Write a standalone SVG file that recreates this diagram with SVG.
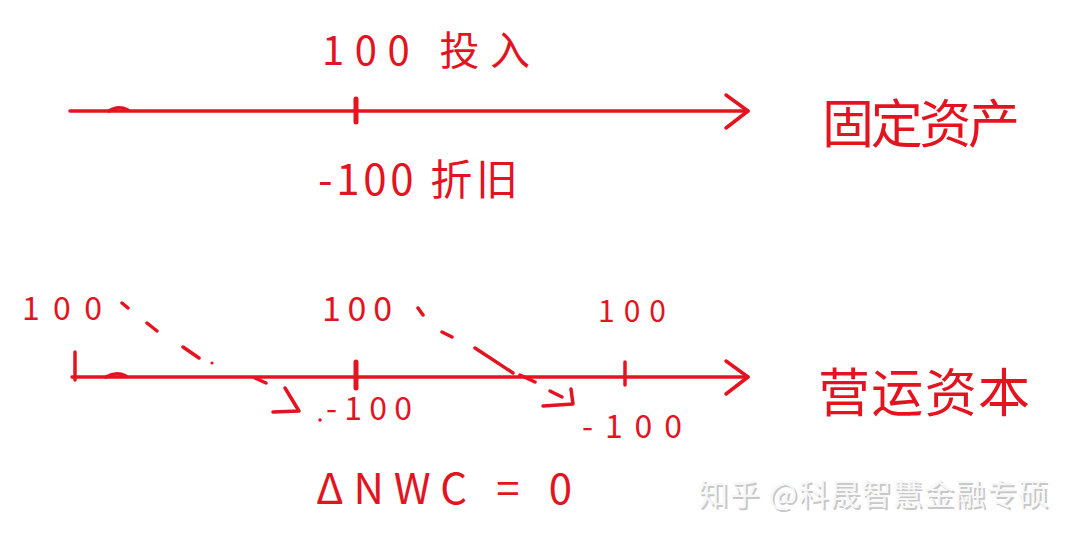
<svg xmlns="http://www.w3.org/2000/svg" width="1080" height="539" viewBox="0 0 1080 539">
<style>
.ln{stroke:#e3141f;stroke-width:3.5;fill:none;stroke-linecap:round;stroke-linejoin:round}
.tk{stroke:#e3141f;stroke-width:5;fill:none;stroke-linecap:round}
.t{fill:#e3141f;font-family:"Noto Sans CJK SC","Noto Sans",sans-serif}
.wm{font-family:"Noto Sans CJK SC",sans-serif;font-size:30px}
</style>
<rect width="1080" height="539" fill="#ffffff"/>
<g id="connectors">
<path class="ln" d="M70 111 L748 111"/>
<path class="ln" d="M726 95 L748 111 L726 128"/>
<path class="ln" d="M109 111 Q118 105 128 110"/>
<path class="tk" d="M356 99 L356 122"/>
<path class="ln" d="M72 377 L748 377"/>
<path class="ln" d="M726 361 L748 377 L726 394"/>
<path class="ln" d="M106 377 Q116 371 126 376"/>
<path class="ln" d="M75 352 L75 380"/>
<path class="tk" d="M356 362 L356 388"/>
<path class="ln" d="M625 362 L625 385"/>
<path class="ln" d="M122 303 L128 308 M147 323 L157 331 M183 347 L199 358 M255 378 L266 383"/>
<circle cx="212" cy="363" r="1.6" fill="#e3141f"/>
<path class="ln" d="M285 388 L299 411 L273 412"/>
<path class="ln" d="M418 308 L423 315 M442 332 L452 337 M475 348 L513 373 M520 375 L535 382"/>
<path class="ln" d="M550 391 L562 397 M571 389 L573 404 L543 406"/>
<circle cx="320" cy="420" r="1.8" fill="#e3141f"/>
</g>
<g id="top-labels">
<text class="t" x="322" y="65" font-size="40" textLength="208" lengthAdjust="spacing">100 投入</text>
<text class="t" x="318" y="195" font-size="42" textLength="200" lengthAdjust="spacing">-100 折旧</text>
<text class="t" x="822" y="143" font-size="52" textLength="198" lengthAdjust="spacing">固定资产</text>
</g>
<g id="bottom-labels">
<text class="t" x="22" y="320" font-size="32" textLength="80" lengthAdjust="spacing">100</text>
<text class="t" x="322" y="321" font-size="34" textLength="70" lengthAdjust="spacing">100</text>
<text class="t" x="598" y="322" font-size="30" textLength="68" lengthAdjust="spacing">100</text>
<text class="t" x="326" y="420" font-size="32" textLength="86" lengthAdjust="spacing">-100</text>
<text class="t" x="582" y="438" font-size="32" textLength="100" lengthAdjust="spacing">-100</text>
<text class="t" x="818" y="412" font-size="52" textLength="212" lengthAdjust="spacing">营运资本</text>
<text class="t" x="316" y="504" font-size="42" textLength="256" lengthAdjust="spacing">ΔNWC = 0</text>
</g>
<g id="watermark">
<text class="wm" x="700" y="507" fill="#c8c8c8" textLength="350" lengthAdjust="spacing">知乎 @科晟智慧金融专硕</text>
<text class="wm" x="698" y="505" fill="#f7f7f7" textLength="350" lengthAdjust="spacing">知乎 @科晟智慧金融专硕</text>
</g>
</svg>
